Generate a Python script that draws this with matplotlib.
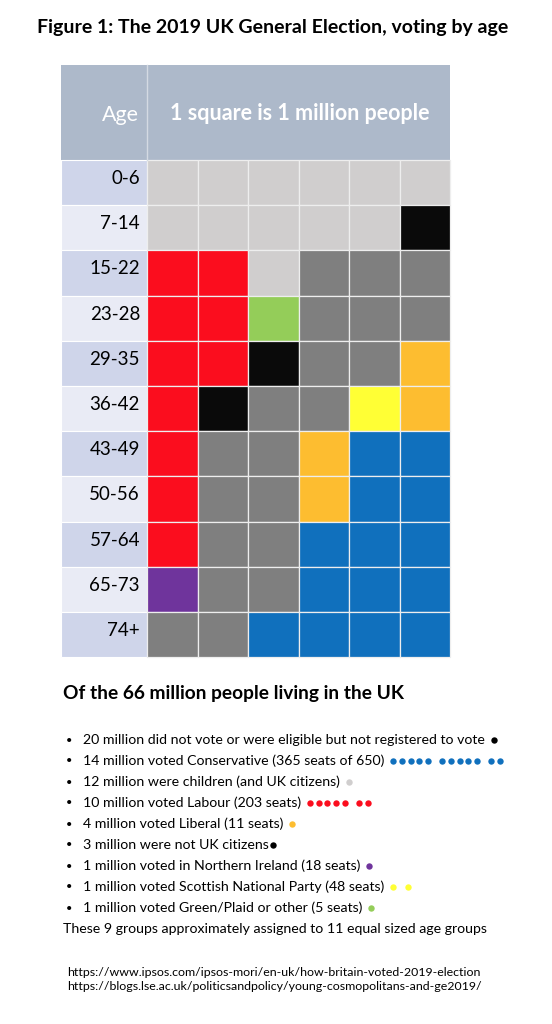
import matplotlib.pyplot as plt
from matplotlib.patches import Rectangle

ages = ["0-6", "7-14", "15-22", "23-28", "29-35", "36-42",
        "43-49", "50-56", "57-64", "65-73", "74+"]

# one letter per square, left to right, for each age row
# c=children, n=did not vote, x=not citizens, t=Conservative, l=Labour,
# d=Liberal, s=SNP, g=Green/other, i=Northern Ireland
squares = ["cccccc",
           "cccccx",
           "llcnnn",
           "llgnnn",
           "llxnnd",
           "lxnnsd",
           "lnndtt",
           "lnndtt",
           "lnnttt",
           "innttt",
           "nntttt"]

colours = {"c": "#D0CECE", "n": "#7F7F7F", "x": "#0A0A0A", "t": "#1070BD",
           "l": "#FB0D1E", "d": "#FDBD30", "s": "#FFFF35", "g": "#94CD59",
           "i": "#6F349C"}

legend_text = ["20 million did not vote or were eligible but not registered to vote",
               "14 million voted Conservative (365 seats of 650)",
               "12 million were children (and UK citizens)",
               "10 million voted Labour (203 seats)",
               "4 million voted Liberal (11 seats)",
               "3 million were not UK citizens",
               "1 million voted in Northern Ireland (18 seats)",
               "1 million voted Scottish National Party (48 seats)",
               "1 million voted Green/Plaid or other (5 seats)"]
# dots after each line, in groups
legend_dots = [[1], [5, 5, 2], [1], [5, 2], [1], [1], [1], [1, 1], [1]]
legend_cols = ["#000000", "#1070BD", "#D0CECE", "#FB0D1E", "#FDBD30", "#000000",
               "#6F349C", "#FFFF35", "#94CD59"]

sources = ["https://www.ipsos.com/ipsos-mori/en-uk/how-britain-voted-2019-election",
           "https://blogs.lse.ac.uk/politicsandpolicy/young-cosmopolitans-and-ge2019/"]

plt.rcParams['font.family'] = ['Lato', 'DejaVu Sans']

fig = plt.figure(figsize=(5.52, 10.24), dpi=100)
ax = fig.add_axes([0, 0, 1, 1])
ax.set_xlim(0, 552)
ax.set_ylim(1024, 0)
ax.axis("off")

# table layout in pixels
left, right = 61, 450
head_top, row_top, row_h = 65, 160, 45.2
age_w = 86
cell_w = (right - left - age_w) / 6

ax.text(273, 27, "Figure 1: The 2019 UK General Election, voting by age",
        ha="center", va="center", fontsize=14, fontweight="bold")

ax.add_patch(Rectangle((left, head_top), right - left, row_top - head_top,
                       fc="#ADB9CA", ec="none"))
ax.plot([left + age_w] * 2, [head_top, row_top], color="#D4DAE3", lw=1)
ax.text(left + age_w - 8, 115, "Age", ha="right", va="center",
        color="white", fontsize=15.5)
ax.text(left + age_w + 23, 114, "1 square is 1 million people", ha="left",
        va="center", color="white", fontsize=15.5, fontweight="bold")

for r, age in enumerate(ages):
    y = row_top + r * row_h
    ax.add_patch(Rectangle((left, y), age_w, row_h,
                           fc="#CFD5EA" if r % 2 == 0 else "#E9EBF5",
                           ec="white", lw=0.8))
    ax.text(left + age_w - 7, y + row_h / 2 - 4, age, ha="right",
            va="center", fontsize=13.5)
    for c, code in enumerate(squares[r]):
        ax.add_patch(Rectangle((left + age_w + c * cell_w, y), cell_w, row_h,
                               fc=colours[code], ec="#EEEEEE", lw=0.9))

ax.text(63, 693, "Of the 66 million people living in the UK",
        ha="left", va="center", fontsize=13.8, fontweight="bold")

line_y = [740 + i * 21 for i in range(len(legend_text))]
texts = []
for i, txt in enumerate(legend_text):
    ax.text(66, line_y[i], "\u2022", ha="left", va="center", fontsize=8)
    texts.append(ax.text(83, line_y[i], txt, ha="left", va="center", fontsize=10.2))

fig.canvas.draw()
renderer = fig.canvas.get_renderer()
pitch, gap = 8.6, 6
for i, t in enumerate(texts):
    bb = t.get_window_extent(renderer)
    x = ax.transData.inverted().transform((bb.x1, bb.y0))[0] + (4 if i == 5 else 9)
    for n in legend_dots[i]:
        xs = [x + k * pitch for k in range(n)]
        ax.plot(xs, [line_y[i]] * n, "o", ms=4.6, color=legend_cols[i], mec="none")
        x = xs[-1] + pitch + gap

ax.text(63, 929, "These 9 groups approximately assigned to 11 equal sized age groups",
        ha="left", va="center", fontsize=10.2)
for i, s in enumerate(sources):
    ax.text(67, 972 + i * 15, s, ha="left", va="center", fontsize=8.9)

fig.savefig("out.png", dpi=100)
